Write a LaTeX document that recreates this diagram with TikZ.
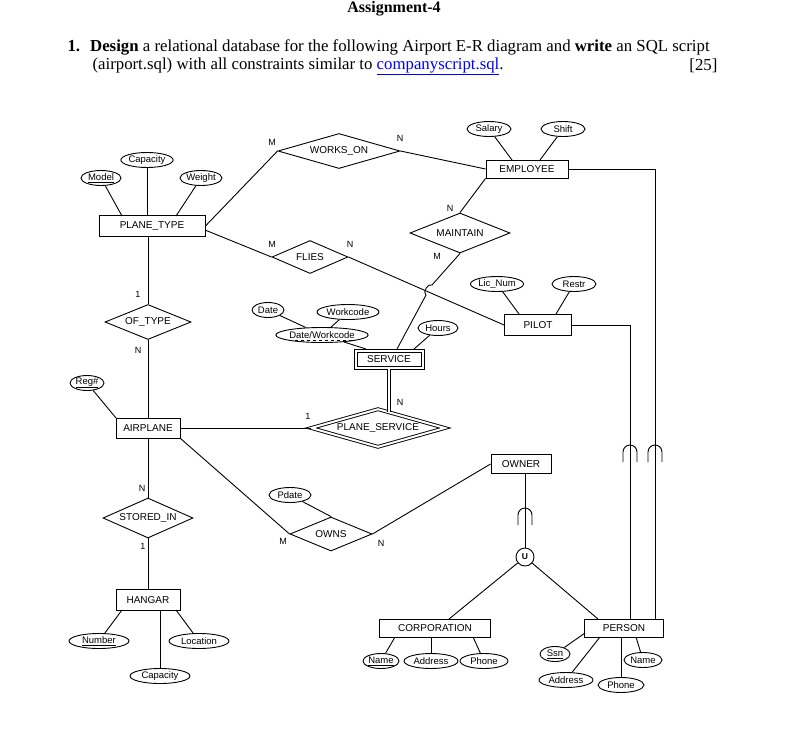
\documentclass[tikz,border=0pt]{standalone}
\usepackage{fontspec}
\setmainfont{Liberation Serif}
\newfontfamily\dsans{Liberation Sans}
\usetikzlibrary{shapes.geometric,calc}
\begin{document}
\begin{tikzpicture}[x=1pt,y=-1pt,
  ent/.style={draw,rectangle,inner sep=0pt,font=\dsans\fontsize{10}{11}\selectfont},
  attr/.style={draw,ellipse,inner sep=0pt,minimum height=15,font=\dsans\fontsize{9.5}{10}\selectfont},
  rel/.style={draw,diamond,inner sep=0pt,font=\dsans\fontsize{10}{11}\selectfont},
  card/.style={font=\dsans\fontsize{9}{10}\selectfont},
  ln/.style={line width=0.9pt}]
\useasboundingbox (0,0) rectangle (788,732);
\node[font=\bfseries\fontsize{16}{18}\selectfont] (title) at (394,9) {Assignment-4};
\node[anchor=west,font=\fontsize{16.8}{18}\selectfont] (q1) at (64,47) {\textbf{1.}\hspace{10pt}\textbf{Design} a relational database for the following Airport E-R diagram and \textbf{write} an SQL script};
\node[anchor=west,font=\fontsize{16.8}{18}\selectfont] (q2) at (89,66) {(airport.sql) with all constraints similar to \textcolor{blue}{\underline{companyscript.sql}}.};
\node[anchor=east,font=\fontsize{16.8}{18}\selectfont] (pts) at (721,66) {[25]};
\begin{scope}[ln]
% entities
\node[ent,minimum width=106,minimum height=21] (pt) at (152,226) {PLANE\_TYPE};
\node[ent,minimum width=82,minimum height=18] (emp) at (527,169) {EMPLOYEE};
\node[ent,minimum width=67,minimum height=21] (pil) at (538,325) {PILOT};
\node[ent,minimum width=64,minimum height=20] (air) at (148,428) {AIRPLANE};
\node[ent,minimum width=60,minimum height=19] (own) at (521,464) {OWNER};
\node[ent,minimum width=64,minimum height=21] (han) at (148,600) {HANGAR};
\node[ent,minimum width=111,minimum height=18] (cor) at (435,628) {CORPORATION};
\node[ent,minimum width=79,minimum height=18] (per) at (624,628) {PERSON};
\node[ent,minimum width=70,minimum height=20] (srv) at (389,359) {};
\node[ent,minimum width=64,minimum height=14] (srvin) at (389,359) {SERVICE};
% relationships
\node[rel,minimum width=122,minimum height=35,aspect=3.5] (wo) at (339,151) {WORKS\_ON};
\node[rel,minimum width=100,minimum height=40,aspect=2.5] (mt) at (460,233) {MAINTAIN};
\node[rel,minimum width=76,minimum height=33,aspect=2.3] (fl) at (310,257) {FLIES};
\node[rel,minimum width=86,minimum height=35,aspect=2.5] (ot) at (148,322) {OF\_TYPE};
\node[rel,minimum width=134,minimum height=38,aspect=3.5,double,double distance=2pt] (ps) at (378,428) {PLANE\_SERVICE};
\node[rel,minimum width=90,minimum height=40,aspect=2.3] (si) at (148,518) {STORED\_IN};
\node[rel,minimum width=82,minimum height=34,aspect=2.4] (ow) at (331,534) {OWNS};
\node[draw,circle,inner sep=0pt,minimum size=18,font=\dsans\bfseries\fontsize{8.5}{9}\selectfont] (u) at (525,557) {U};
% attributes
\node[attr,minimum width=52] (a1) at (147,160) {Capacity};
\node[attr,minimum width=40] (a2) at (101,178) {\underline{Model}};
\node[attr,minimum width=42] (a3) at (201,178) {Weight};
\node[attr,minimum width=44] (a4) at (489,129) {Salary};
\node[attr,minimum width=44] (a5) at (563,129) {Shift};
\node[attr,minimum width=52] (a6) at (497,284) {Lic\_Num};
\node[attr,minimum width=44] (a7) at (574,284) {Restr};
\node[attr,minimum width=32] (a8) at (268,310) {Date};
\node[attr,minimum width=62] (a9) at (348,312) {Workcode};
\node[attr,minimum width=92] (a10) at (322,335) {Date/Workcode};
\draw[dashed,line width=0.5pt] (289,340) -- (355,340);
\node[attr,minimum width=40] (a11) at (438,328) {Hours};
\node[attr,minimum width=34] (a12) at (87,383) {\underline{Reg\#}};
\node[attr,minimum width=42] (a13) at (290,495) {Pdate};
\node[attr,minimum width=60] (a14) at (99,641) {\underline{Number}};
\node[attr,minimum width=60] (a15) at (199,641) {Location};
\node[attr,minimum width=60] (a16) at (160,676) {Capacity};
\node[attr,minimum width=36] (a17) at (381,661) {\underline{Name}};
\node[attr,minimum width=54] (a18) at (431,661) {Address};
\node[attr,minimum width=48] (a19) at (484,661) {Phone};
\node[attr,minimum width=30] (a20) at (555,654) {\underline{Ssn}};
\node[attr,minimum width=54] (a21) at (566,680) {Address};
\node[attr,minimum width=46] (a22) at (621,685) {Phone};
\node[attr,minimum width=38] (a23) at (643,660) {Name};
% attribute links
\draw (a1) -- (pt.north -| a1); \draw (a2) -- (122,216); \draw (a3) -- (176,216);
\draw (a4) -- (512,160); \draw (a5) -- (540,160);
\draw (a6) -- (519,314); \draw (a7) -- (556,314);
\draw (a8) -- (a10); \draw (a9) -- (a10); \draw (a10) -- (366,349); \draw (a11) -- (414,349);
\draw (a12) -- (116,418);
\draw (a13) -- (ow.north);
\draw (a14) -- (122,610); \draw (a15) -- (176,610); \draw (a16) -- (han.south -| a16);
\draw (a17) -- (395,637); \draw (a18) -- (cor.south -| a18); \draw (a19) -- (473,637);
\draw (a20) -- (585,633); \draw (a21) -- (600,637); \draw (a22) -- (per.south -| a22); \draw (a23) -- (636,637);
% relationship links
\draw (pt.east) -- (wo.west); \draw (wo.east) -- (emp.west);
\draw (emp.south west) -- (mt.north);
\draw (205,230) -- (fl.west); \draw (fl.east) -- (pil.west);
\coordinate (j1) at (432,285); \coordinate (j2) at (426,295);
\draw (mt.south) -- (j1) to[bend right=90] (j2) -- (397,349);
\draw (pt.south -| ot.north) -- (ot.north); \draw (ot.south) -- (air.north);
\draw (air.east) -- (ps.west);
\coordinate (psn) at (389,412);
\draw[double,double distance=2pt] (srv.south) -- (psn);
\draw (air.south east) -- (ow.west); \draw (ow.east) -- (own.west);
\draw (air.south) -- (si.north); \draw (si.south) -- (han.north);
\draw (own.south -| u) -- (u.north);
\draw (u) -- (449,619); \draw (u) -- (598,619);
\draw (emp.east) -- (655,169) -- (655,619);
\draw (pil.east) -- (630,325) -- (630,619);
\draw (518,525) -- (518,515) arc(180:360:7) -- (532,525);
\draw (623,462) -- (623,452) arc(180:360:7) -- (637,462);
\draw (648,462) -- (648,452) arc(180:360:7) -- (662,462);
% cardinalities
\node[card] (c1) at (272,142) {M}; \node[card] (c2) at (400,138) {N};
\node[card] (c3) at (450,208) {N}; \node[card] (c4) at (437,256) {M};
\node[card] (c5) at (272,244) {M}; \node[card] (c6) at (350,244) {N};
\node[card] (c7) at (138,294) {1}; \node[card] (c8) at (138,350) {N};
\node[card] (c9) at (308,416) {1}; \node[card] (c10) at (400,402) {N};
\node[card] (c11) at (142,488) {N}; \node[card] (c12) at (143,546) {1};
\node[card] (c13) at (283,541) {M}; \node[card] (c14) at (381,543) {N};
\end{scope}
\end{tikzpicture}
\end{document}
